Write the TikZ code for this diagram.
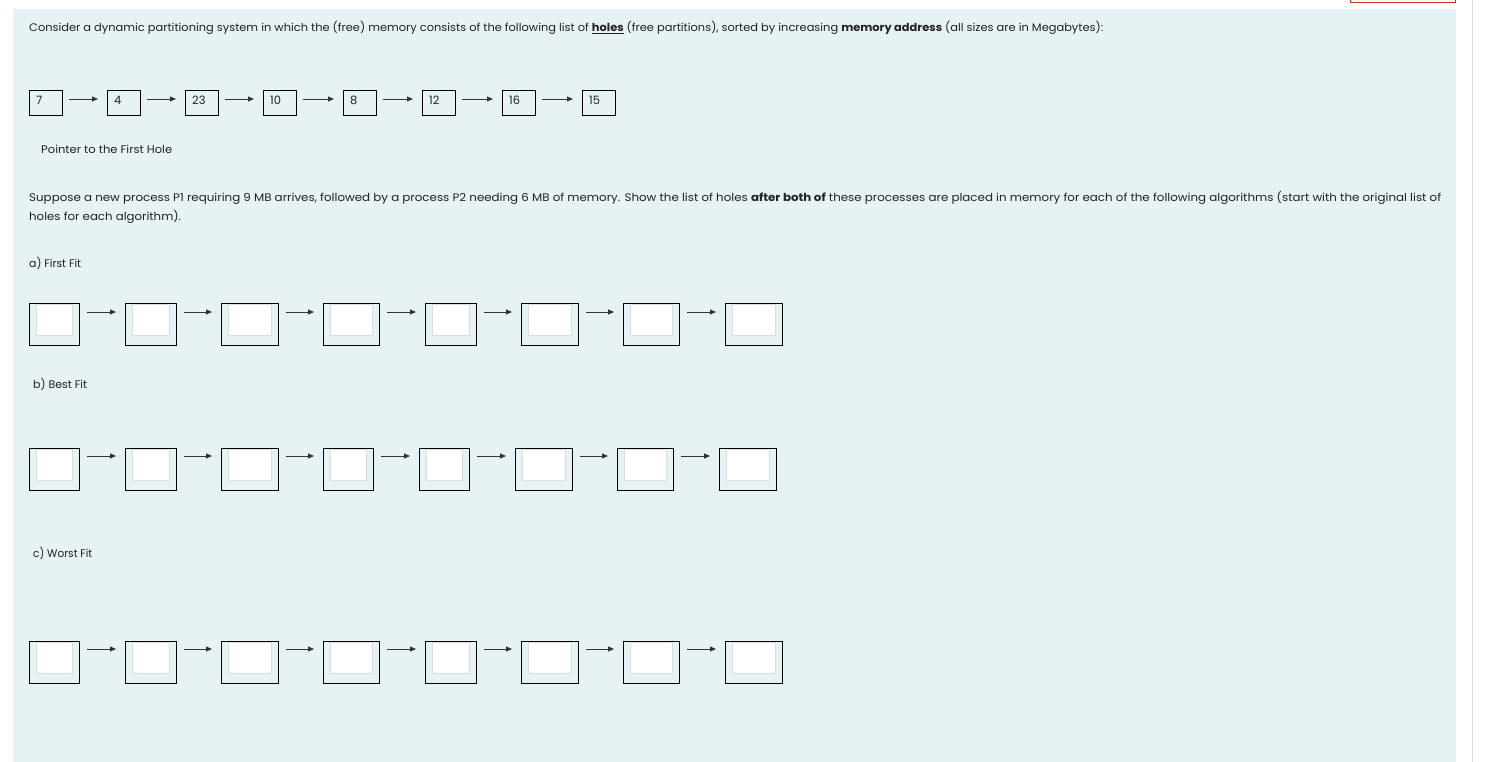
\documentclass[tikz,border=0pt]{standalone}
\usepackage{fontspec}
\setmainfont{Poppins}
\usetikzlibrary{arrows.meta}
\definecolor{panel}{HTML}{E6F2F4}
\definecolor{txtc}{HTML}{222222}
\definecolor{redb}{HTML}{D0341E}
\definecolor{sepc}{HTML}{DDDDDD}
\definecolor{innerc}{HTML}{DCDCDC}
\definecolor{arrc}{HTML}{333333}
\newlength\fitlen
\newcommand\fitw[2]{\settowidth\fitlen{#2}\pgfmathsetmacro\fitsx{#1/\fitlen}\scalebox{\fitsx}[1]{#2}}
\newcommand\ansrow[4]{%
  \foreach \l/\rt [count=\i] in {#3} {
    \node[ansbox, anchor=north west, minimum width={\rt-\l}] (#1\i) at (\l,#2) {};
    \node[innerbox, anchor=north west, minimum width={\rt-\l-14}] (#1i\i) at (\l+7,#2+1) {};
  }
  \foreach \i [evaluate=\i as \j using int(\i+1)] in {1,...,7}
    \draw[arr] ([yshift=-#4pt]#1\i.north east) -- ([yshift=-#4pt]#1\j.north west);
}
\begin{document}
\begin{tikzpicture}[x=1pt,y=-1pt,
  txt/.style={font=\fontsize{11}{13}\selectfont, text=txtc, inner sep=0pt, anchor=base west},
  numtxt/.style={font=\fontsize{11.5}{13}\selectfont, text=txtc, inner sep=0pt, anchor=base west},
  hole/.style={draw=black, line width=1pt, minimum width=33pt, minimum height=25pt, inner sep=0pt, outer sep=0pt, anchor=north west},
  ansbox/.style={draw=black, line width=1pt, minimum height=42pt, inner sep=0pt, outer sep=0pt},
  innerbox/.style={draw=innerc, fill=white, line width=0.8pt, minimum height=31pt, inner sep=0pt, outer sep=0pt},
  arr/.style={draw=arrc, line width=0.9pt, -{Triangle[length=6pt,width=5pt]}, shorten <=8pt, shorten >=9pt}
]
\useasboundingbox (0,0) rectangle (1486,762);
\fill[white] (0,0) rectangle (1486,762);
\fill[panel] (13,9) rectangle (1456,762);
\draw[redb, line width=1.2pt] (1350.5,-2) -- (1350.5,2.3) -- (1455.5,2.3) -- (1455.5,-2);
\draw[sepc, line width=1pt] (1472.5,0) -- (1472.5,762);

\node[txt] (t1) at (29,31.5) {\fitw{1074}{Consider a dynamic partitioning system in which the (free) memory consists of the following list of \underline{\textbf{holes}} (free partitions), sorted by increasing \textbf{memory address} (all sizes are in Megabytes):}};

\foreach \x/\n [count=\i] in {29/7,107/4,185/23,263/10,343/8,422/12,502/16,582/15} {
  \node[hole] (h\i) at (\x,91) {};
  \node[numtxt] (n\i) at (\x+7,104.5) {\n};
}
\foreach \i [evaluate=\i as \j using int(\i+1)] in {1,...,7}
  \draw[arr, shorten <=7pt] ([yshift=-8pt]h\i.north east) -- ([yshift=-8pt]h\j.north west);

\node[txt] (ptr) at (41,154) {\fitw{131}{Pointer to the First Hole}};

\node[txt] (t2) at (29,202) {\fitw{1412}{Suppose a new process P1 requiring 9 MB arrives, followed by a process P2 needing 6 MB of memory. Show the list of holes \textbf{after both of} these processes are placed in memory for each of the following algorithms (start with the original list of}};
\node[txt] (t3) at (29,221) {\fitw{152}{holes for each algorithm).}};

\node[txt] (la) at (29,268) {\fitw{52}{a) First Fit}};
\ansrow{a}{303}{29/79,125/176,221/278,323/379,425/476,521/578,623/679,725/782}{9}

\node[txt] (lb) at (33,388.5) {\fitw{54}{b) Best Fit}};
\ansrow{b}{448}{29/79,125/176,221/278,323/373,419/469,515/572,617/673,719/776}{8}

\node[txt] (lc) at (33,557.5) {\fitw{59}{c) Worst Fit}};
\ansrow{c}{641}{29/79,125/176,221/278,323/379,425/476,521/578,623/679,725/782}{8}
\end{tikzpicture}
\end{document}
